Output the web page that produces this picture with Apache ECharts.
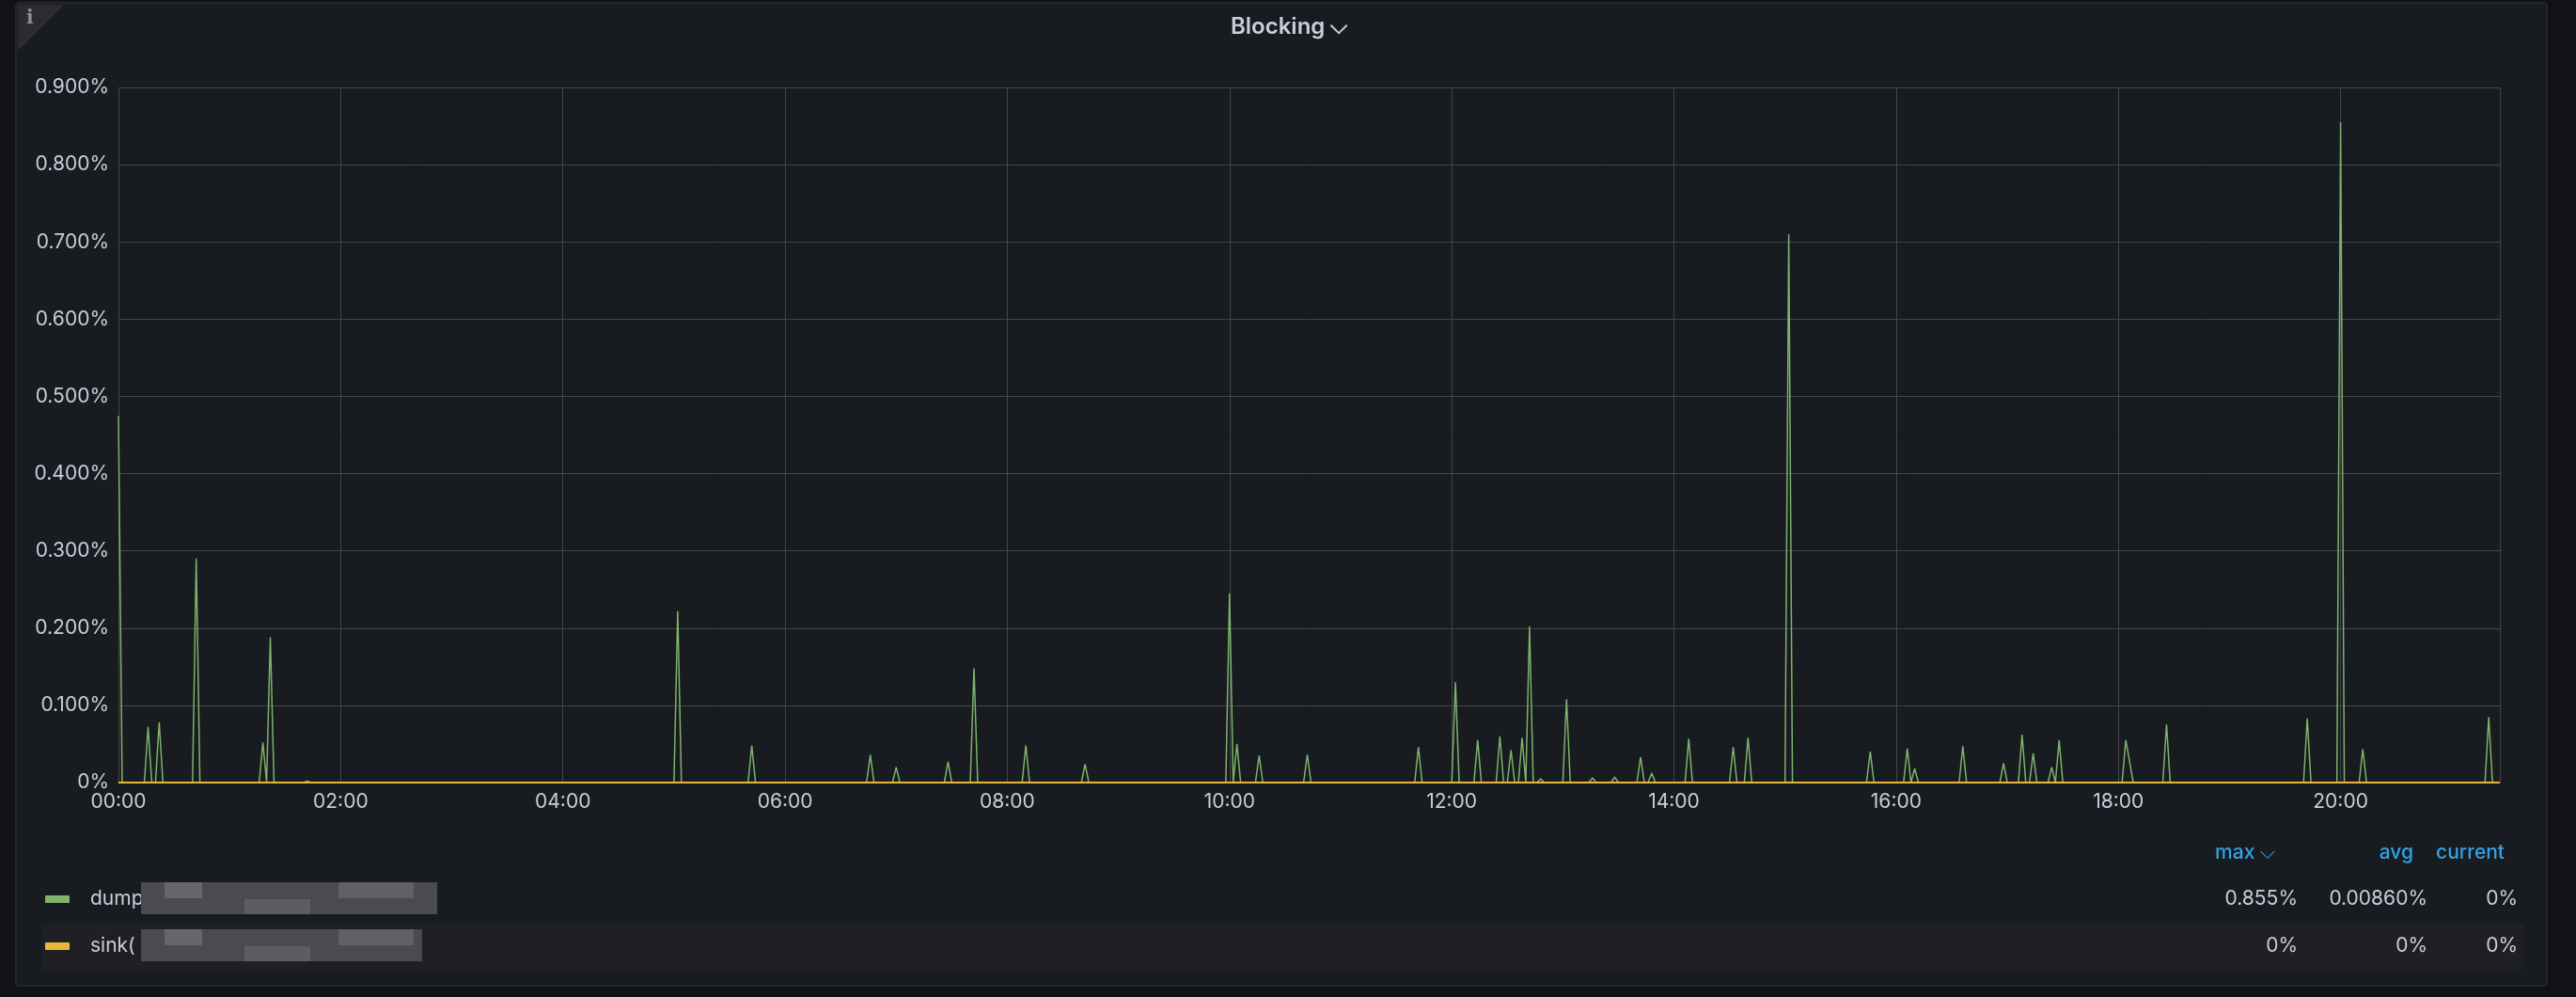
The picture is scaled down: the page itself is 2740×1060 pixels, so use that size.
<!DOCTYPE html>
<html><head><meta charset="utf-8">
<script src="https://cdn.jsdelivr.net/npm/echarts@6/dist/echarts.min.js"></script>
<style>html,body{margin:0;background:#111217;}#c{width:2740px;height:1060px;}</style>
</head><body><div id="c"></div>
<script>
// spike times (minutes after 00:00) and values (%) of the green series
const spikeMinutes = [0,16,22,42,78,82,102,302,342,406,420,448,462,490,522,600,604,616,642,702,722,734,746,752,758,762,768,782,796,808,822,828,848,872,880,902,946,966,970,996,1018,1028,1034,1044,1048,1084,1086,1106,1182,1200,1212,1280];
const spikeValues  = [0.475,0.072,0.078,0.29,0.052,0.188,0.002,0.222,0.048,0.036,0.02,0.027,0.148,0.048,0.024,0.245,0.05,0.035,0.036,0.046,0.13,0.055,0.06,0.042,0.058,0.202,0.005,0.108,0.006,0.007,0.033,0.012,0.057,0.046,0.058,0.71,0.04,0.044,0.018,0.047,0.025,0.062,0.038,0.02,0.055,0.055,0.028,0.075,0.083,0.855,0.043,0.085];
const endMinute = 1286, stepMinutes = 2;
const xTicks = ['00:00','02:00','04:00','06:00','08:00','10:00','12:00','14:00','16:00','18:00','20:00'];
const seriesNames = ['dump', 'sink('];
const statMax = ['0.855%','0%'], statAvg = ['0.00860%','0%'], statCur = ['0%','0%'];

const spikeMap = {}; spikeMinutes.forEach((m,i)=>spikeMap[m]=spikeValues[i]);
const green = [], yellow = [];
for (let m=0; m<=endMinute; m+=stepMinutes){ green.push([m, spikeMap[m]||0]); yellow.push([m,0]); }

const ch = echarts.init(document.getElementById('c'));
const txt = '#ccccdc', F = 'Inter, Roboto, sans-serif';
const g = [
  {type:'rect', shape:{x:17,y:3,width:2692,height:1045,r:4}, style:{fill:'#181b1f',stroke:'#24262b',lineWidth:2}, z:-10},
  {type:'polygon', shape:{points:[[19,5],[68,5],[19,54]]}, style:{fill:'#2a2c31'}, z:-9},
  {type:'text', left:28, top:10, style:{text:'i',fill:'#8e8e95',font:'bold 20px DejaVu Serif'}},
  {type:'text', left:1309, top:17, style:{text:'Blocking ⌵',fill:txt,font:'600 24px '+F}},
  {type:'rect', shape:{x:44,y:982,width:2640,height:50}, style:{fill:'#1e2025'}, z:-5},
  {type:'text', x:2420, y:907, style:{text:'max ⌵',fill:'#33a2e5',font:'500 21px '+F,align:'right',verticalAlign:'middle'}},
  {type:'text', x:2567, y:907, style:{text:'avg',fill:'#33a2e5',font:'500 21px '+F,align:'right',verticalAlign:'middle'}},
  {type:'text', x:2664, y:907, style:{text:'current',fill:'#33a2e5',font:'500 21px '+F,align:'right',verticalAlign:'middle'}}
];
const colors=['#7eb26d','#eab839'], rowY=[956,1006], blurW=[315,299];
seriesNames.forEach((n,i)=>{
  const y=rowY[i];
  g.push({type:'rect',shape:{x:48,y:y-4,width:26,height:8,r:1},style:{fill:colors[i]}});
  g.push({type:'text',x:96,y:y,style:{text:n,fill:txt,font:'21px '+F,verticalAlign:'middle'}});
  g.push({type:'rect',shape:{x:150,y:y-18,width:blurW[i],height:34},style:{fill:'#4a4b50'}});
  g.push({type:'rect',shape:{x:175,y:y-18,width:40,height:17},style:{fill:'#66676b'}});
  g.push({type:'rect',shape:{x:260,y:y,width:70,height:16},style:{fill:'#5c5d61'}});
  g.push({type:'rect',shape:{x:360,y:y-18,width:80,height:17},style:{fill:'#606165'}});
  g.push({type:'text',x:2444,y:y,style:{text:statMax[i],fill:txt,font:'21px '+F,align:'right',verticalAlign:'middle'}});
  g.push({type:'text',x:2582,y:y,style:{text:statAvg[i],fill:txt,font:'21px '+F,align:'right',verticalAlign:'middle'}});
  g.push({type:'text',x:2678,y:y,style:{text:statCur[i],fill:txt,font:'21px '+F,align:'right',verticalAlign:'middle'}});
});
ch.setOption({
  backgroundColor:'#111217', animation:false,
  grid:{left:126,right:81,top:93,bottom:228},
  xAxis:{type:'value',min:0,max:endMinute,interval:120,
    axisLine:{lineStyle:{color:'#55565b'}},axisTick:{show:false},
    splitLine:{lineStyle:{color:'#45464b'}},
    axisLabel:{color:txt,fontSize:21,fontFamily:F,margin:10,showMaxLabel:false,formatter:v=>xTicks[v/120]||''}},
  yAxis:{type:'value',min:0,max:0.9,interval:0.1,
    axisLine:{show:false},axisTick:{show:false},
    splitLine:{lineStyle:{color:'#45464b'}},
    axisLabel:{color:txt,fontSize:21,fontFamily:F,margin:10,formatter:v=>v===0?'0%':v.toFixed(3)+'%'}},
  series:[
    {name:seriesNames[0],type:'line',data:green,showSymbol:false,lineStyle:{width:1.5,color:colors[0]},z:2},
    {name:seriesNames[1],type:'line',data:yellow,showSymbol:false,lineStyle:{width:2,color:colors[1]},z:3}
  ],
  graphic:g
});
</script></body></html>
